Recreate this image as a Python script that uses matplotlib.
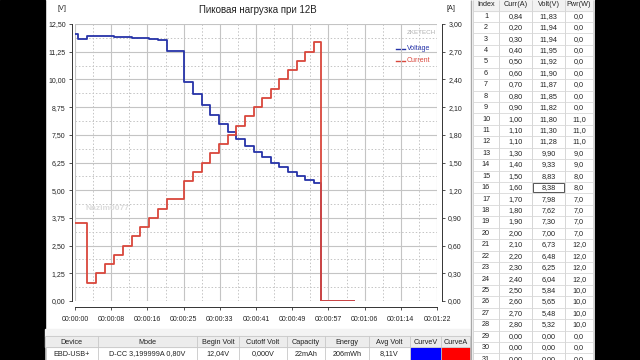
import matplotlib
matplotlib.use("Agg")
import matplotlib.pyplot as plt
from matplotlib.patches import Rectangle
from matplotlib.ticker import AutoMinorLocator

plt.rcParams['font.family'] = ['Liberation Sans', 'DejaVu Sans']

W, H = 640, 360

# Records as listed in the table on the right
rec_index = list(range(1, 32))
rec_curr = [0.84, 0.20, 0.30, 0.40, 0.50, 0.60, 0.70, 0.80, 0.90, 1.00,
            1.10, 1.10, 1.30, 1.40, 1.50, 1.60, 1.70, 1.80, 1.90, 2.00,
            2.10, 2.20, 2.30, 2.40, 2.50, 2.60, 2.70, 2.80, 0.00, 0.00, 0.00]
rec_volt = [11.83, 11.94, 11.94, 11.95, 11.92, 11.90, 11.87, 11.85, 11.82, 11.80,
            11.30, 11.28, 9.90, 9.33, 8.83, 8.38, 7.98, 7.62, 7.30, 7.00,
            6.73, 6.48, 6.25, 6.04, 5.84, 5.65, 5.48, 5.32, 0.00, 0.00, 0.00]
rec_pwr = [0.0, 0.0, 0.0, 0.0, 0.0, 0.0, 0.0, 0.0, 0.0, 11.0,
           11.0, 11.0, 9.0, 9.0, 8.0, 8.0, 7.0, 7.0, 7.0, 7.0,
           12.0, 12.0, 12.0, 12.0, 10.0, 10.0, 10.0, 10.0, 0.0, 0.0, 0.0]
# start time of each record in seconds
rec_time = [0.6, 2.8, 4.8, 6.8, 8.8, 10.8, 12.8, 14.8, 16.8, 18.8,
            20.8, 22.8, 24.8, 26.7, 28.7, 30.6, 32.6, 34.6, 36.5, 38.5,
            40.5, 42.4, 44.4, 46.3, 48.3, 50.2, 52.2, 54.1, 55.8, 57.8, 59.8]
start_volt = 12.04
start_time = 0.0
end_time = 63.3

x_ticks = [0, 8.2, 16.4, 24.6, 32.8, 41.0, 49.2, 57.4, 65.6, 73.8, 82.0]
x_labels = ["00:00:00", "00:00:08", "00:00:16", "00:00:25", "00:00:33", "00:00:41",
            "00:00:49", "00:00:57", "00:01:06", "00:01:14", "00:01:22"]
v_ticks = [0, 1.25, 2.5, 3.75, 5.0, 6.25, 7.5, 8.75, 10.0, 11.25, 12.5]
a_ticks = [0, 0.3, 0.6, 0.9, 1.2, 1.5, 1.8, 2.1, 2.4, 2.7, 3.0]

info_headers = ["Device", "Mode", "Begin Volt", "Cutoff Volt", "Capacity",
                "Energy", "Avg Volt", "CurveV", "CurveA"]
info_values = ["EBD-USB+", "D-CC 3,199999A 0,80V", "12,04V", "0,000V", "22mAh",
               "206mWh", "8,11V", "", ""]


def comma(v, n=2):
    return f"{v:.{n}f}".replace('.', ',')


fig = plt.figure(figsize=(W / 100, H / 100), dpi=100)

# background / window decoration in pixel coordinates
bg = fig.add_axes([0, 0, 1, 1], zorder=0)
bg.set_xlim(0, W)
bg.set_ylim(H, 0)
bg.axis('off')
bg.add_patch(Rectangle((0, 0), W, H, color='white'))
bg.add_patch(Rectangle((0, 0), 45, H, color='black'))
bg.add_patch(Rectangle((595, 0), W - 595, H, color='black'))

txt = dict(fontsize=5.2, color='#222222')

# title and unit labels
bg.text(258, 10, "Пиковая нагрузка при 12В", ha='center', va='center', fontsize=7, color='#222222')
bg.text(62, 9, "[V]", ha='center', va='center', **txt)
bg.text(451, 9, "[A]", ha='center', va='center', **txt)

# legend + watermark
bg.text(436, 33, "ZKETECH", ha='right', va='center', fontsize=4.5, color='#b0b0b0')
bg.plot([396, 405], [49, 49], color='#2633a8', lw=1.0)
bg.text(407, 49, "Voltage", ha='left', va='center', fontsize=5, color='#2633a8')
bg.plot([396, 405], [61, 61], color='#d9473c', lw=1.0)
bg.text(407, 61, "Current", ha='left', va='center', fontsize=5, color='#d9473c')

# bottom info table
cols = [45, 98, 197, 239, 287, 325, 369, 410, 441, 470]
bg.add_patch(Rectangle((45, 329), 425, 7, color='#f3f3f3'))
bg.add_patch(Rectangle((45, 336), 425, 11, color='#ececec'))
bg.hlines([336, 347], 45, 470, color='#c8c8c8', lw=0.6)
bg.vlines(cols, 336, H, color='#c8c8c8', lw=0.6)
for i, (h, v) in enumerate(zip(info_headers, info_values)):
    xc = (cols[i] + cols[i + 1]) / 2
    bg.text(xc, 342, h, ha='center', va='center', **txt)
    bg.text(xc, 354, v, ha='center', va='center', **txt)
bg.add_patch(Rectangle((cols[7] + 1, 348), cols[8] - cols[7] - 1, 12, color='#0000ff'))
bg.add_patch(Rectangle((cols[8] + 1, 348), cols[9] - cols[8] - 1, 12, color='#ff0000'))

# right record table
tcols = [473, 499, 532, 565, 593]
row_h = 11.43
head_h = 10.5
bg.add_patch(Rectangle((473, 0), 120, head_h, color='#f2f2f2'))
bg.vlines([471], 0, H, color='#a8a8a8', lw=1.0)
bg.vlines(tcols, 0, H, color='#d0d0d0', lw=0.6)
bg.hlines([head_h + k * row_h for k in range(32)], 473, 593, color='#d8d8d8', lw=0.6)
for i, h in enumerate(["Index", "Curr(A)", "Volt(V)", "Pwr(W)"]):
    bg.text((tcols[i] + tcols[i + 1]) / 2, 5, h, ha='center', va='center', **txt)
for k, (n, c, v, p) in enumerate(zip(rec_index, rec_curr, rec_volt, rec_pwr)):
    yc = head_h + (k + 0.5) * row_h
    row = [str(n), comma(c), comma(v), comma(p, 1)]
    for i, s in enumerate(row):
        bg.text((tcols[i] + tcols[i + 1]) / 2, yc, s, ha='center', va='center', **txt)
# selected cell
sel = rec_index.index(16)
bg.add_patch(Rectangle((533, head_h + sel * row_h + 1), 31, row_h - 2,
                       fill=False, ec='#555555', lw=0.7))

# main chart
ax = fig.add_axes([75 / W, 1 - 301 / H, (437 - 75) / W, (301 - 24) / H], zorder=1)
ax.patch.set_alpha(0)
ax.text(2.3, 4.1, "Nazim0077", fontsize=6, color='#dcdcdc', fontweight='bold')

v_curve = [start_volt] + rec_volt
a_curve = [rec_curr[0]] + rec_curr
t_curve = [start_time] + rec_time
ax.step(t_curve + [end_time], v_curve + [v_curve[-1]], where='post', color='#2633a8', lw=1.3)

ax2 = ax.twinx()
ax2.step(t_curve + [end_time], a_curve + [a_curve[-1]], where='post', color='#d9473c', lw=1.3)

ax.set_xlim(0, 82)
ax.set_ylim(0, 12.5)
ax2.set_ylim(0, 3.0)
ax.set_xticks(x_ticks)
ax.set_xticklabels(x_labels)
ax.set_yticks(v_ticks)
ax.set_yticklabels([comma(v) for v in v_ticks])
ax2.set_yticks(a_ticks)
ax2.set_yticklabels([comma(v) for v in a_ticks])
ax.xaxis.set_minor_locator(AutoMinorLocator(2))
ax.yaxis.set_minor_locator(AutoMinorLocator(2))

ax.grid(True, which='major', color='#c4c4c4', lw=0.8, ls='-')
ax.grid(True, which='minor', color='#c4c4c4', lw=0.7, ls=(0, (1.5, 2)))
ax.tick_params(which='minor', length=0)
ax.tick_params(which='major', length=2.5, width=0.6, color='#333333',
               labelsize=5, labelcolor='#222222', pad=2)
ax.tick_params(axis='x', pad=4)
ax2.tick_params(length=2.5, width=0.6, color='#333333', labelsize=5,
                labelcolor='#222222', pad=2)

for s in ['top', 'right']:
    ax.spines[s].set_visible(False)
for s in ['top', 'left', 'bottom']:
    ax2.spines[s].set_visible(False)
ax.spines['left'].set_position(('outward', 2.2))
ax.spines['bottom'].set_position(('outward', 4.3))
ax2.spines['right'].set_position(('outward', 3.6))
for sp in [ax.spines['left'], ax.spines['bottom'], ax2.spines['right']]:
    sp.set_color('#333333')
    sp.set_linewidth(0.7)

fig.savefig("out.png", dpi=100)
